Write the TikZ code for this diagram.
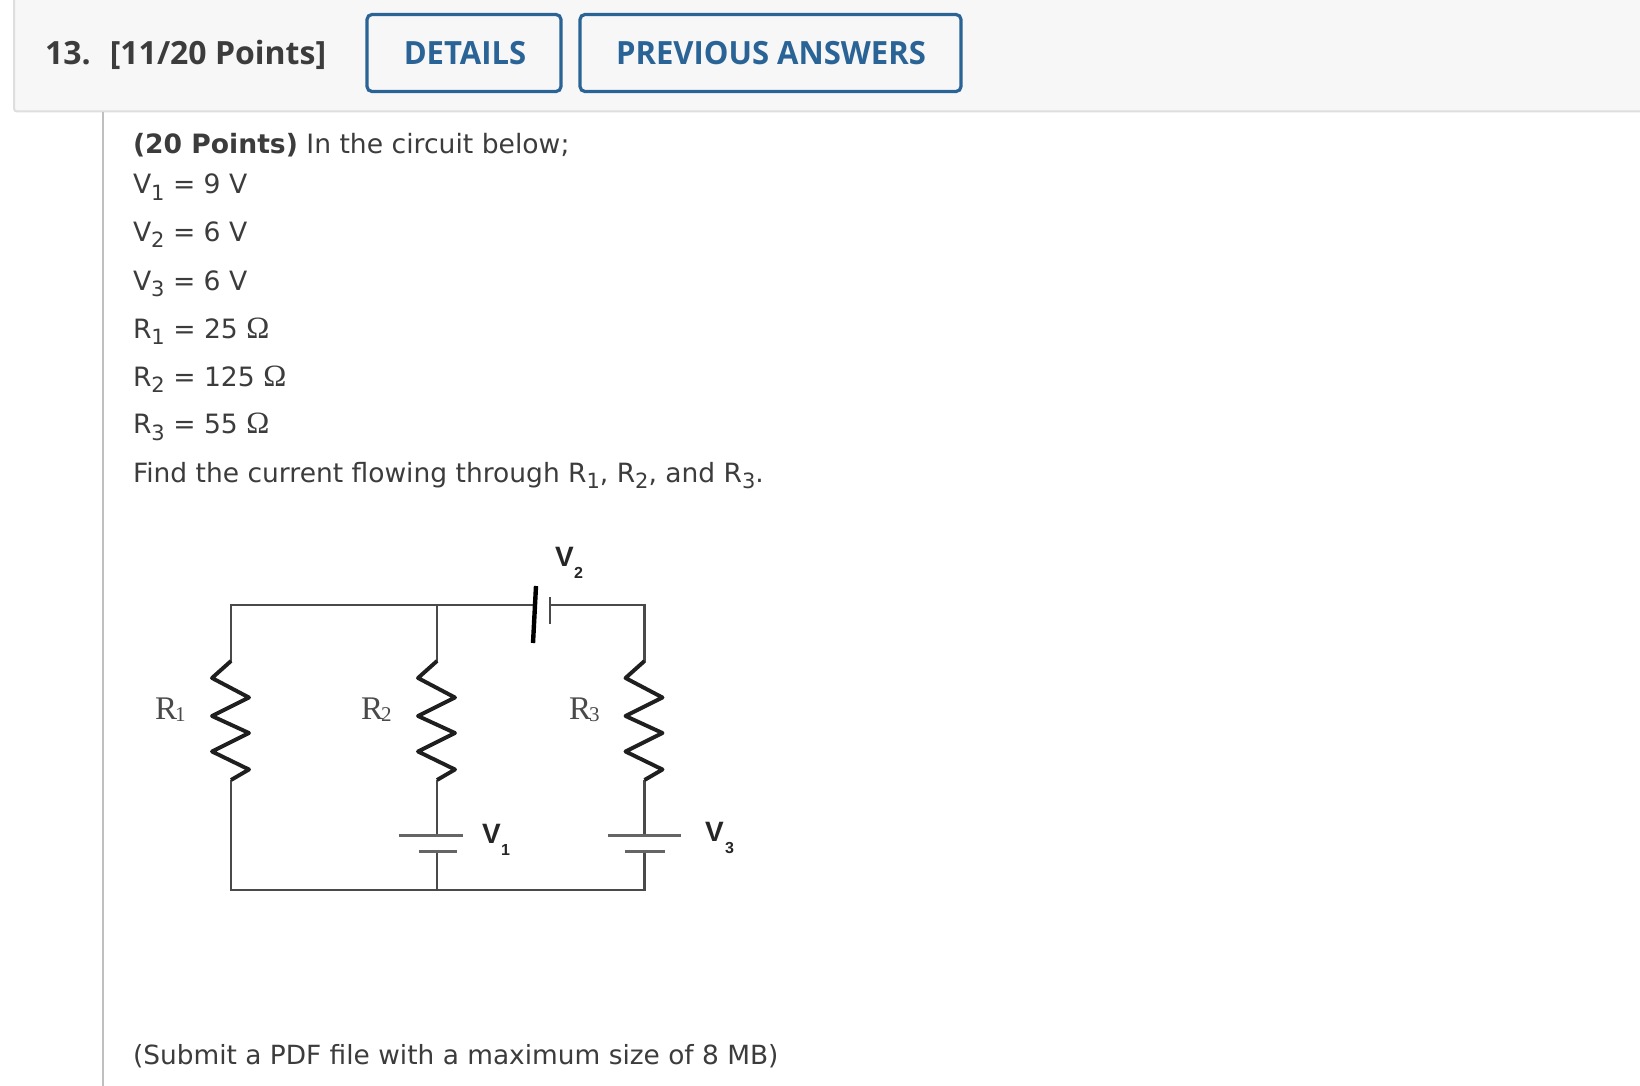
\documentclass[tikz,border=0pt]{standalone}
\usepackage{fontspec}
\setmainfont{DejaVu Sans}
\newfontfamily\headfont{Open Sans}
\newfontfamily\labfont{Liberation Sans}
\newfontfamily\rfont{Liberation Serif}
\definecolor{headbg}{HTML}{F7F7F7}
\definecolor{headline}{HTML}{DEDEDE}
\definecolor{btn}{HTML}{2A6496}
\definecolor{ink}{HTML}{3C3C3C}
\definecolor{wire}{HTML}{4A4A4A}
\tikzset{
  x=1pt,y=-1pt,
  every node/.style={inner sep=0pt,outer sep=0pt},
  btnbox/.style={draw=btn,line width=3.2pt,rounded corners=5pt,fill=headbg},
  btntext/.style={text=btn,font=\headfont\bfseries\fontsize{32}{36}\selectfont\addfontfeature{FakeStretch=0.97},anchor=base},
  body/.style={text=ink,anchor=base west,font=\fontsize{26.6}{32}\selectfont},
  wireline/.style={draw=wire,line width=2.6pt,line cap=butt},
  zigzag/.style={draw=black!88,line width=3.9pt,line join=round},
  rlab/.style={text=wire,anchor=base west,font=\rfont\fontsize{33}{36}\selectfont},
  rsub/.style={text=wire,anchor=base west,font=\rfont\fontsize{21}{24}\selectfont},
  vlab/.style={text=black!85,anchor=base west,font=\labfont\bfseries\fontsize{28}{30}\selectfont},
  vsub/.style={text=black!85,anchor=base west,font=\labfont\bfseries\fontsize{16}{18}\selectfont}
}
\newcommand{\vsubs}[1]{\raisebox{-0.25em}{\fontsize{21}{24}\selectfont #1}}
\newcommand{\ohm}{{\rfont\fontsize{31}{32}\selectfont Ω}}
\begin{document}
\begin{tikzpicture}
\useasboundingbox (0,0) rectangle (1640,1086);
\fill[white] (0,0) rectangle (1640,1086);
% header
\draw[draw=headline,line width=2pt,fill=headbg,rounded corners=3pt] (14,-6) rectangle (1650,111.5);
\draw[draw=black!25,line width=1.6pt] (103,112) -- (103,1086);
\node[text=ink,anchor=base west,font=\headfont\bfseries\fontsize{32}{36}\selectfont] (title) at (45,65) {13.\hspace{0.6em}[11/20 Points]};
\node[btnbox,anchor=north west] (bd) at (367,14.5) {\rule{0pt}{77pt}\rule{194pt}{0pt}};
\node[btnbox,anchor=north west] (bp) at (580,14.5) {\rule{0pt}{77pt}\rule{381pt}{0pt}};
\node[btntext] (dt) at (465,65) {DETAILS};
\node[btntext] (pt) at (771,65) {PREVIOUS ANSWERS};
% text
\node[body] (l0) at (133,154) {\textbf{(20 Points)} In the circuit below;};
\node[body] (l1) at (133,193.5) {V\vsubs{1} = 9 V};
\node[body] (l2) at (133,241) {V\vsubs{2} = 6 V};
\node[body] (l3) at (133,290) {V\vsubs{3} = 6 V};
\node[body] (l4) at (133,338) {R\vsubs{1} = 25 \ohm};
\node[body] (l5) at (133,386) {R\vsubs{2} = 125 \ohm};
\node[body] (l6) at (133,433.5) {R\vsubs{3} = 55 \ohm};
\node[body,font=\fontsize{26.5}{32}\selectfont] (l7) at (133,482) {Find the current flowing through R\vsubs{1}, R\vsubs{2}, and R\vsubs{3}.};
\node[body,font=\fontsize{26.4}{32}\selectfont] (l8) at (133,1064) {(Submit a PDF file with a maximum size of 8 MB)};
% circuit junctions
\coordinate (tl) at (231,605);
\coordinate (tm) at (437,605);
\coordinate (tr) at (644.5,605);
\coordinate (bl) at (231,890);
\coordinate (bm) at (437,890);
\coordinate (br) at (644.5,890);
\coordinate (v2a) at (534.5,605);
\coordinate (v2b) at (550,605);
\coordinate (r1t) at (231,662);
\coordinate (r1b) at (231,780);
\coordinate (r2t) at (437,662);
\coordinate (r2b) at (437,780);
\coordinate (r3t) at (644.5,662);
\coordinate (r3b) at (644.5,780);
\coordinate (v1a) at (437,835);
\coordinate (v1b) at (437,851);
\coordinate (v3a) at (644.5,835);
\coordinate (v3b) at (644.5,851);
% wires
\draw[wireline] (r1t) -- (tl) -- (v2a);
\draw[wireline] (v2b) -- (tr) -- (r3t);
\draw[wireline] (tm) -- (r2t);
\draw[wireline] (r1b) -- (bl) -- (br) -- (v3b);
\draw[wireline] (r2b) -- (v1a);
\draw[wireline] (bm) -- (v1b);
\draw[wireline] (r3b) -- (v3a);
% resistors
\foreach \n/\c in {r1/231,r2/437,r3/644.5}{
  \draw[zigzag] (\c,661) -- (\c-19,678) -- (\c+18,697.5) -- (\c-19,716) -- (\c+18,733) -- (\c-19,751.5) -- (\c+18,769.5) -- (\c,780);
}
% batteries
\draw[draw=black,line width=4.4pt] (536,586) -- (533,643);
\draw[draw=wire,line width=2pt] (550,597) -- (550,624);
\draw[draw=wire!85,line width=3pt] (399,835) -- (463,835);
\draw[draw=wire!85,line width=3pt] (419,851) -- (457,851);
\draw[draw=wire!85,line width=3pt] (608,835) -- (681,835);
\draw[draw=wire!85,line width=3pt] (625,851) -- (665,851);
% labels
\node[rlab] (R1) at (155,719) {R};
\node[rsub] (R1s) at (175,721) {1};
\node[rlab] (R2) at (361,719) {R};
\node[rsub] (R2s) at (381,721) {2};
\node[rlab] (R3) at (569,719) {R};
\node[rsub] (R3s) at (589,721) {3};
\node[vlab] (V2) at (555,566.5) {V};
\node[vsub] (V2s) at (574,578) {2};
\node[vlab] (V1) at (482,843) {V};
\node[vsub] (V1s) at (501,855) {1};
\node[vlab] (V3) at (705,841.5) {V};
\node[vsub] (V3s) at (725,853) {3};
\end{tikzpicture}
\end{document}
